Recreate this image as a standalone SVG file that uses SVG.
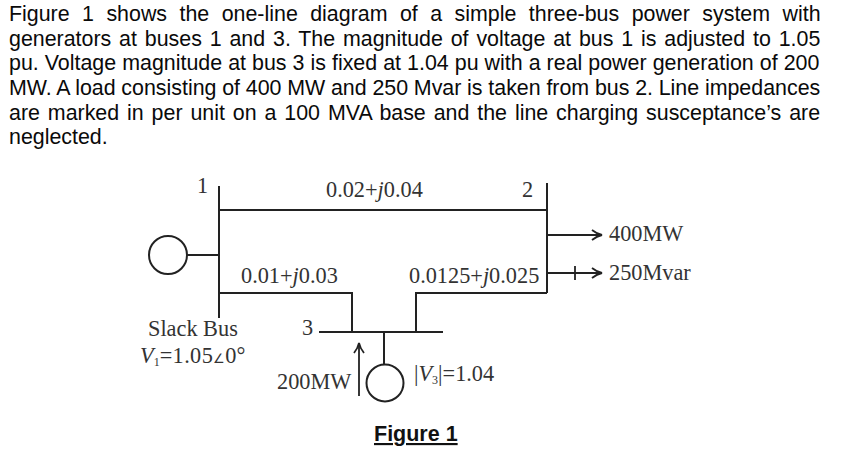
<svg xmlns="http://www.w3.org/2000/svg" width="860" height="457" viewBox="0 0 860 457">
<style>
.p{font:21.4px "Liberation Sans",Arial,sans-serif;fill:#0a0a0a}
.s{font:22.3px "Liberation Serif","Times New Roman",serif;fill:#333}
.i{font-style:italic}
.w{fill:none;stroke:#222;stroke-width:2}
.t{fill:none;stroke:#222;stroke-width:1.8}
.g{fill:#fff;stroke:#222;stroke-width:2}
</style>
<defs><marker id="a" markerWidth="14" markerHeight="14" refX="11" refY="7" orient="auto" markerUnits="userSpaceOnUse"><path d="M1 2Q6 6 11 7Q6 8 1 12" fill="none" stroke="#222" stroke-width="1.8"/></marker></defs>
<rect width="860" height="457" fill="#fff"/>
<g id="body">
<text class="p" x="9" y="21" word-spacing="6.5">Figure 1 shows the one-line diagram of a simple three-bus power system with</text>
<text class="p" x="9" y="45.5" word-spacing="1.9">generators at buses 1 and 3. The magnitude of voltage at bus 1 is adjusted to 1.05</text>
<text class="p" x="9" y="70" word-spacing="0.1">pu. Voltage magnitude at bus 3 is fixed at 1.04 pu with a real power generation of 200</text>
<text class="p" x="9" y="95" word-spacing="-0.2">MW. A load consisting of 400 MW and 250 Mvar is taken from bus 2. Line impedances</text>
<text class="p" x="9" y="120" word-spacing="1.96">are marked in per unit on a 100 MVA base and the line charging susceptance’s are</text>
<text class="p" x="9" y="144">neglected.</text>
</g>
<g id="connectors">
<path class="w" d="M219 186V318M219 210H547M547 183V293M219 293H352V332M416 332V293H547M187 255H219M319 332H443M384 332V364"/>
<path class="t" d="M547 235H602" marker-end="url(#a)"/>
<path class="t" d="M575 266V280"/>
<path class="t" d="M547 273H602" marker-end="url(#a)"/>
<path class="t" d="M359 396V343" marker-end="url(#a)"/>
</g>
<g id="bus1"><text class="s" x="197" y="193">1</text></g>
<g id="bus2"><text class="s" x="522" y="197">2</text></g>
<g id="bus3"><text class="s" x="302" y="335">3</text></g>
<g id="gen1"><circle class="g" cx="168" cy="255" r="19"/></g>
<g id="gen3"><circle class="g" cx="385" cy="383" r="18.5"/></g>
<g id="labels">
<text class="s" x="326" y="197">0.02+<tspan class="i">j</tspan>0.04</text>
<text class="s" x="241" y="283">0.01+<tspan class="i">j</tspan>0.03</text>
<text class="s" x="409" y="283">0.0125+<tspan class="i">j</tspan>0.025</text>
<text class="s" x="609" y="241">400MW</text>
<text class="s" x="609" y="280">250Mvar</text>
<text class="s" x="148" y="336">Slack Bus</text>
<text class="s i" x="140" y="363">V<tspan font-size="12" dy="3" font-style="normal">1</tspan><tspan dy="-3" font-style="normal" letter-spacing="0.4">=1.05</tspan><tspan font-size="13" font-style="normal">∠</tspan><tspan font-style="normal">0°</tspan></text>
<text class="s" x="277" y="389">200MW</text>
<text class="s" x="414" y="381">|<tspan class="i">V</tspan><tspan font-size="12" dy="3">3</tspan><tspan dy="-3">|=1.04</tspan></text>
<text x="374" y="441" font-family="Liberation Sans,Arial,sans-serif" font-size="21.5" font-weight="bold" fill="#111" text-decoration="underline">Figure 1</text>
</g>
</svg>
